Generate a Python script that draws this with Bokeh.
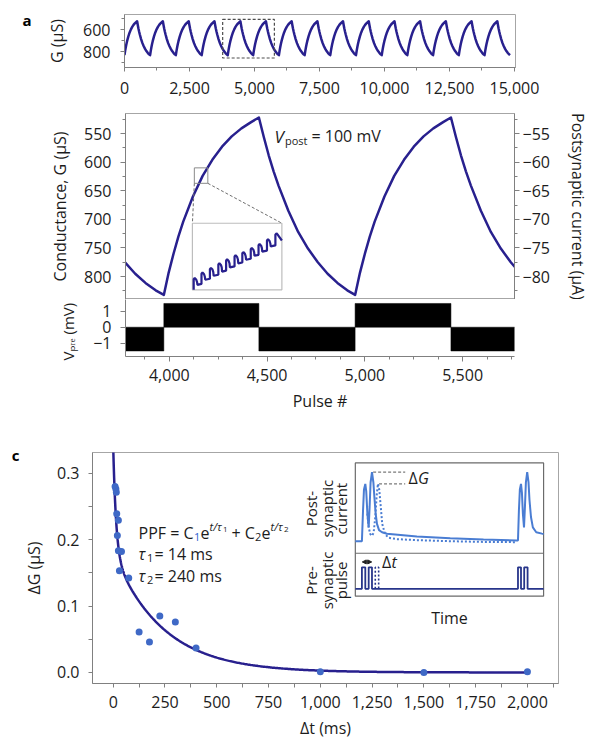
import math
import numpy as np
from bokeh.plotting import figure
from bokeh.models import (Range1d, LinearAxis, FixedTicker, Label, Arrow,
                          NormalHead, NumeralTickFormatter)
from bokeh.layouts import column
from bokeh.embed import file_html
from bokeh.resources import INLINE

# ---------------- panel a: conductance under alternating pulse trains ----------------
trough_pulse = [0, 985, 1975, 2970, 3972, 4950, 5940, 6930, 7915, 8905,
                9895, 10880, 11870, 12860, 13850, 14830]
peak_pulse = [485, 1475, 2470, 3460, 4458, 5440, 6430, 7420, 8405, 9395,
              10385, 11370, 12360, 13350, 14340]
branch_step = [0, 25, 50, 75, 100, 150, 200, 250, 300, 350, 400, 450, 490]
potentiation_g = [832, 793, 760, 730, 704, 660, 624, 596, 573, 555, 541, 530, 522]
depression_g = [522, 556, 588, 616, 641, 685, 722, 751, 775, 795, 811, 824, 832]
v_pre_amplitude = 1.5     # mV
v_post = 100              # mV

# magnified stretch of one potentiation branch
zoom_pulse = [4128, 4197]
zoom_g = [610, 637]
tooth_start = [4129, 4135, 4141.5, 4148, 4154, 4160.5, 4166.5, 4173, 4179, 4185.5, 4192]
tooth_top = [632.7, 630.5, 628.6, 626.7, 625.1, 623.5, 622.2, 620.5, 618.9, 617.0, 614.6]
tooth_low = [637.0, 634.6, 632.5, 630.9, 629.2, 627.5, 625.9, 624.4, 622.8, 621.1, 619.0]
tooth_end_g = 617.0

strip_x_ticks = [0, 2500, 5000, 7500, 10000, 12500, 15000]
strip_x_minor = [1250, 3750, 6250, 8750, 11250, 13750]
strip_g_ticks = [600, 800]
strip_g_minor = [500, 700, 900]
main_g_ticks = [550, 600, 650, 700, 750, 800]
main_g_minor = [525, 575, 625, 675, 725, 775, 825]
current_ticks = [-80, -75, -70, -65, -60, -55]
current_minor = [-82.5, -77.5, -72.5, -67.5, -62.5, -57.5, -52.5]
pulse_ticks = [4000, 4500, 5000, 5500]
pulse_minor = [3875, 4125, 4250, 4375, 4625, 4750, 4875, 5125, 5250, 5375, 5625, 5750]
vpre_ticks = [-1, 0, 1]

# ---------------- panel c: paired-pulse facilitation ----------------
ppf_dt = [9, 13, 15, 17, 25, 20, 25, 40, 30, 75, 125, 175, 225, 300, 400, 1000, 1500, 2000]
ppf_dg = [0.280, 0.276, 0.271, 0.239, 0.229, 0.206, 0.183, 0.182, 0.153, 0.142,
          0.061, 0.046, 0.085, 0.076, 0.037, 0.001, 0.000, 0.001]
tau1, tau2 = 14, 240      # ms
c1, c2 = 0.16, 0.18       # µS

dt_ticks = [0, 250, 500, 750, 1000, 1250, 1500, 1750, 2000]
dt_minor = [125, 375, 625, 875, 1125, 1375, 1625, 1875, 2125]
dg_ticks = [0.0, 0.1, 0.2, 0.3]
dg_minor = [0.05, 0.15, 0.25]

# schematic: postsynaptic current and presynaptic pulses (arbitrary units)
cur_t = [0, 3.5, 4.1, 4.6, 5.3, 5.8, 6.4, 7.1, 7.6, 8.1, 8.85, 9.6, 10.1, 10.8, 11.5,
         12.6, 14.2, 16.8, 32.7, 50.4, 68.1, 85.8, 86.4, 86.9, 87.4, 88.0, 88.5, 89.0,
         89.6, 90.1, 90.6, 91.3, 92.0, 92.5, 93.3, 94.3, 96.1, 99.1, 100]
cur_v = [0, 0, 0.45, 0.75, 0.83, 0.72, 0.40, 0.20, 0.50, 0.85, 1.00, 0.85, 0.65, 0.40,
         0.25, 0.16, 0.13, 0.107, 0.068, 0.043, 0.025, 0.010, 0.010, 0.45, 0.75, 0.83,
         0.70, 0.40, 0.20, 0.50, 0.85, 1.00, 0.85, 0.60, 0.35, 0.20, 0.13, 0.11, 0.105]
late_t = [6.4, 7.1, 8.0, 8.85, 9.7, 10.6, 11.3, 12.0, 12.7, 13.5, 14.3, 15.8, 17.7,
          22.1, 32.7, 50.4, 68.1, 85.8]
late_v = [0.40, 0.20, 0.10, 0.08, 0.12, 0.35, 0.65, 0.83, 0.75, 0.50, 0.25, 0.10, 0.05,
          0.03, 0.015, 0.0, -0.01, -0.014]
pulse_t = [0, 3.5, 3.5, 5.3, 5.3, 7.1, 7.1, 8.85, 8.85, 86.4, 86.4, 88.0, 88.0, 89.7,
           89.7, 91.5, 91.5, 100]
pulse_w = [0, 0, 1, 1, 0, 0, 1, 1, 0, 0, 1, 1, 0, 0, 1, 1, 0, 0]
late_pulse_t = [10.6, 10.6, 12.4, 12.4]
late_pulse_w = [0, 1, 1, 0]

# ---------------- styling ----------------
FONT = "Open Sans"
INK = "#1c1c1c"
NAVY = "#28208e"
DOT_BLUE = "#3f69c6"
LIGHT_BLUE = "#4a7dd3"
PULSE_NAVY = "#27358a"
AXIS_GRAY = "#808080"
FRAME_GRAY = "#a6a6a6"


def base_figure(**kw):
    p = figure(output_backend="svg", toolbar_location=None, **kw)
    p.frame_align = False
    p.xgrid.visible = False
    p.ygrid.visible = False
    p.background_fill_color = "white"
    p.border_fill_color = "white"
    p.outline_line_color = FRAME_GRAY
    return p


def style_axis(ax, tick_out=5, minor_out=3, standoff=9, label_standoff=10, size="16px"):
    ax.major_label_text_font = FONT
    ax.major_label_text_font_size = size
    ax.major_label_text_color = INK
    ax.axis_label_text_font = FONT
    ax.axis_label_text_font_size = size
    ax.axis_label_text_font_style = "normal"
    ax.axis_label_text_color = INK
    ax.axis_line_color = AXIS_GRAY
    ax.major_tick_line_color = AXIS_GRAY
    ax.minor_tick_line_color = AXIS_GRAY
    ax.major_tick_in = 0
    ax.minor_tick_in = 0
    ax.major_tick_out = tick_out
    ax.minor_tick_out = minor_out
    ax.major_label_standoff = standoff
    ax.axis_label_standoff = label_standoff


def side_text(p, text, at, standoff, size="15px", style="bold", orientation="horizontal"):
    """Text drawn as the only tick label of an outer, bare left axis."""
    ax = LinearAxis(ticker=FixedTicker(ticks=[at]), major_label_overrides={at: text})
    ax.axis_line_color = None
    ax.major_tick_line_color = None
    ax.minor_tick_line_color = None
    ax.major_tick_out = 0
    ax.major_tick_in = 0
    ax.major_label_standoff = standoff
    ax.major_label_orientation = orientation
    ax.major_label_text_font = FONT
    ax.major_label_text_font_size = size
    ax.major_label_text_font_style = style
    ax.major_label_text_color = "black" if style == "bold" else INK
    p.add_layout(ax, "left")


def label(p, x, y, text, size=16, style="normal", color=INK, align="left",
          baseline="alphabetic", angle=0.0, units="screen", xr="default", yr="default"):
    p.add_layout(Label(x=x, y=y, text=text, x_units=units, y_units=units,
                       x_range_name=xr, y_range_name=yr,
                       text_font=FONT, text_font_size=f"{size}px",
                       text_font_style=style, text_color=color, text_align=align,
                       text_baseline=baseline, angle=angle))


def frac_range(a, b, fa, fb):
    """Range whose values a and b land at frame fractions fa and fb."""
    span = (b - a) / (fb - fa)
    start = a - fa * span
    return Range1d(start=start, end=start + span)


def frac_value(rng, f):
    return rng.start + f * (rng.end - rng.start)


# conductance trace: potentiation (trough -> peak), depression (peak -> trough)
def branch(x0, x1, gvals):
    return [x0 + s / branch_step[-1] * (x1 - x0) for s in branch_step], list(gvals)


pulse_x, g_y = [], []
for i, pk in enumerate(peak_pulse):
    xs, ys = branch(trough_pulse[i], pk, potentiation_g)
    if pulse_x:
        xs, ys = xs[1:], ys[1:]
    pulse_x += xs
    g_y += ys
    xs, ys = branch(pk, trough_pulse[i + 1], depression_g)
    pulse_x += xs[1:]
    g_y += ys[1:]

# ================= strip: full run =================
p1 = base_figure(width=600, height=104, x_range=Range1d(0, 15040), y_range=Range1d(945, 460),
                 min_border_left=124, min_border_right=85, min_border_top=14, min_border_bottom=37)
p1.line(pulse_x, g_y, line_color=NAVY, line_width=2.5, line_join="round")

main_x = Range1d(3776, 5765)
main_y = Range1d(840, 515)
p1.quad(left=[main_x.start], right=[main_x.end], top=[main_y.end - 10], bottom=[main_y.start + 18],
        fill_color=None, line_color="#4d4d4d", line_dash="3 2", line_width=1.2)

style_axis(p1.xaxis[0], tick_out=4, minor_out=3, standoff=10)
p1.xaxis.ticker = FixedTicker(ticks=strip_x_ticks, minor_ticks=strip_x_minor)
p1.xaxis.formatter = NumeralTickFormatter(format="0,0")
style_axis(p1.yaxis[0], tick_out=4, minor_out=3, standoff=10, label_standoff=12)
p1.yaxis.ticker = FixedTicker(ticks=strip_g_ticks, minor_ticks=strip_g_minor)
p1.yaxis.axis_label = "G (µS)"
side_text(p1, "a", 506, 12)

# ================= main: zoomed conductance =================
p2 = base_figure(width=600, height=195, x_range=main_x, y_range=main_y, x_axis_location=None,
                 min_border_left=125, min_border_right=86, min_border_top=9, min_border_bottom=0)
p2.extra_y_ranges = {
    "current": Range1d(-v_post / 1000 * main_y.start, -v_post / 1000 * main_y.end),
    "zy": frac_range(zoom_g[1], zoom_g[0], 0.052, 0.41),
}
p2.extra_x_ranges = {"zx": frac_range(zoom_pulse[0], zoom_pulse[1], 0.172, 0.402)}
p2.line(pulse_x, g_y, line_color=NAVY, line_width=2.5, line_join="round")

style_axis(p2.yaxis[0], standoff=9, label_standoff=10)
p2.yaxis.ticker = FixedTicker(ticks=main_g_ticks, minor_ticks=main_g_minor)
p2.yaxis.axis_label = "Conductance, G (µS)"

right = LinearAxis(y_range_name="current",
                   ticker=FixedTicker(ticks=current_ticks, minor_ticks=current_minor),
                   axis_label="Postsynaptic current (µA)")
style_axis(right, standoff=3, label_standoff=14)
right.major_label_overrides = {t: f"\u2212{abs(t)}" for t in current_ticks}
p2.add_layout(right, "right")

# magnifier: marked square, connectors and inset box
box_l = frac_value(main_x, 0.172)
box_r = frac_value(main_x, 0.402)
box_t = frac_value(main_y, 0.41)
p2.quad(left=[zoom_pulse[0]], right=[zoom_pulse[1]], top=[zoom_g[0]], bottom=[zoom_g[1]],
        fill_color=None, line_color="#8a8a8a", line_width=1)
p2.segment(x0=[zoom_pulse[0], zoom_pulse[1]], y0=[zoom_g[1], zoom_g[1]],
           x1=[box_l, box_r], y1=[box_t, box_t],
           line_color="#6e6e6e", line_dash="3 2", line_width=1)
p2.quad(left=[zoom_pulse[0]], right=[zoom_pulse[1]], top=[zoom_g[0]], bottom=[zoom_g[1]],
        x_range_name="zx", y_range_name="zy", fill_color="white", line_color="#bdbdbd",
        line_width=1.2)
zx, zy = [], []
for k, s in enumerate(tooth_start):
    low, top = tooth_low[k], tooth_top[k]
    zx += [s, s, s + 0.8, s + 2.0]
    zy += [low, top, top - 0.5, top + 0.2]
    if k + 1 < len(tooth_start):
        zx += [s + 2.6, s + 2.9]
        zy += [top + 1.2, tooth_low[k + 1] + 0.4]
    else:
        zx += [zoom_pulse[1]]
        zy += [tooth_end_g]
p2.line(zx, zy, x_range_name="zx", y_range_name="zy", line_color=NAVY, line_width=2.2)

label(p2, 149, 163.5, "V", size=17, style="italic")
label(p2, 159.5, 159.5, "post", size=11)
label(p2, 186, 163.5, f"= {v_post} mV")

# ================= presynaptic voltage =================
p3 = base_figure(width=600, height=125, x_range=main_x, y_range=Range1d(-1.85, 1.75),
                 min_border_left=125, min_border_right=86, min_border_top=0, min_border_bottom=68)
p3.outline_line_color = None
p3.quad(left=trough_pulse[:-1], right=peak_pulse, bottom=0, top=v_pre_amplitude,
        fill_color="black", line_color="black", line_width=0.5)
p3.quad(left=peak_pulse, right=trough_pulse[1:], bottom=-v_pre_amplitude, top=0,
        fill_color="black", line_color="black", line_width=0.5)
style_axis(p3.xaxis[0], standoff=7, label_standoff=6)
p3.xaxis.ticker = FixedTicker(ticks=pulse_ticks, minor_ticks=pulse_minor)
p3.xaxis.formatter = NumeralTickFormatter(format="0,0")
p3.xaxis.axis_label = "Pulse #"
style_axis(p3.yaxis[0], standoff=9)
p3.yaxis.ticker = FixedTicker(ticks=vpre_ticks)
p3.yaxis.major_label_overrides = {-1: "\u22121"}
side_text(p3, "V\u209a\u1d63\u2091 (mV)", -0.28, 12, size="15px", style="normal",
          orientation="vertical")

# ================= panel c =================
p4 = base_figure(width=600, height=319, x_range=Range1d(-100, 2150), y_range=Range1d(-0.0166, 0.331),
                 min_border_left=92, min_border_right=42, min_border_top=28, min_border_bottom=60)
fit_t = np.concatenate([np.linspace(0, 100, 201), np.linspace(100, 2000, 381)[1:]])
fit_g = c1 * np.exp(-fit_t / tau1) + c2 * np.exp(-fit_t / tau2)
p4.line(fit_t, fit_g, line_color=NAVY, line_width=2.5)
p4.scatter(ppf_dt, ppf_dg, size=7, fill_color=DOT_BLUE, line_color=None)

style_axis(p4.xaxis[0], tick_out=4, minor_out=4, standoff=8, label_standoff=6)
p4.xaxis.ticker = FixedTicker(ticks=dt_ticks, minor_ticks=dt_minor)
p4.xaxis.formatter = NumeralTickFormatter(format="0,0")
p4.xaxis.axis_label = "\u0394t (ms)"
style_axis(p4.yaxis[0], tick_out=4, minor_out=4, standoff=9, label_standoff=9)
p4.yaxis.ticker = FixedTicker(ticks=dg_ticks, minor_ticks=dg_minor)
p4.yaxis.formatter = NumeralTickFormatter(format="0.0")
p4.yaxis.axis_label = "\u0394G (µS)"
side_text(p4, "c", 0.3265, 0)

# fit equation
fy = 150.5
label(p4, 46, fy, "PPF = C")
label(p4, 101.5, fy - 4, "1", size=11, color="#2d5fd0")
label(p4, 108, fy, "e")
label(p4, 117, fy + 7, "t/", size=11, style="italic")
label(p4, 124.5, fy + 7, "\u03c4", size=11, style="italic")
label(p4, 130.5, fy + 4, "1", size=8)
label(p4, 139, fy, "+ C")
label(p4, 162.5, fy - 4, "2", size=11)
label(p4, 169, fy, "e")
label(p4, 178, fy + 7, "t/", size=11, style="italic")
label(p4, 185.5, fy + 7, "\u03c4", size=11, style="italic")
label(p4, 191.5, fy + 4, "2", size=8)
for row, (sub, tau) in enumerate([("1", tau1), ("2", tau2)]):
    by = 129.7 - row * 21.7
    label(p4, 46, by, "\u03c4", style="italic")
    label(p4, 54.5, by - 4, sub, size=11)
    label(p4, 62, by, f"= {tau} ms")

# schematic inset
p4.extra_x_ranges = {"ix": frac_range(0, 100, 0.564, 0.968)}
p4.extra_y_ranges = {
    "icur": frac_range(0, 1, 0.616, 0.915),
    "ipul": frac_range(0, 1, 0.41, 0.503),
    "by": frac_range(0, 1, 0.378, 0.955),
}
p4.quad(left=[0], right=[100], bottom=[0], top=[1], x_range_name="ix", y_range_name="by",
        fill_color="white", line_color="#6b6b6b", line_width=1.2)
p4.segment(x0=[0], x1=[100], y0=[0.322], y1=[0.322], x_range_name="ix", y_range_name="by",
           line_color="#6b6b6b", line_width=1.2)
peak_solid = max(cur_v)
peak_late = max(late_v)
p4.segment(x0=[cur_t[cur_v.index(peak_solid)] + 0.6, late_t[late_v.index(peak_late)] + 0.6],
           x1=[26.5, 26.5], y0=[peak_solid, peak_late], y1=[peak_solid, peak_late],
           x_range_name="ix", y_range_name="icur", line_color="#7a7a7a",
           line_dash="3 2", line_width=1.2)
p4.line(late_t, late_v, x_range_name="ix", y_range_name="icur", line_color=LIGHT_BLUE,
        line_width=2, line_dash="2 2")
p4.line(cur_t, cur_v, x_range_name="ix", y_range_name="icur", line_color=LIGHT_BLUE,
        line_width=2)
p4.line(late_pulse_t, late_pulse_w, x_range_name="ix", y_range_name="ipul",
        line_color=PULSE_NAVY, line_width=1.6, line_dash="2 2")
p4.line(pulse_t, pulse_w, x_range_name="ix", y_range_name="ipul", line_color=PULSE_NAVY,
        line_width=1.8)
p4.add_layout(Arrow(x_start=3.7, x_end=8.7, y_start=1.25, y_end=1.25,
                    x_range_name="ix", y_range_name="ipul", line_width=1, line_color="#222",
                    start=NormalHead(size=4, fill_color="#222", line_color="#222"),
                    end=NormalHead(size=4, fill_color="#222", line_color="#222")))

label(p4, 28.3, (peak_solid + peak_late) / 2, "\u0394", baseline="middle", units="data",
      xr="ix", yr="icur")
label(p4, 33.3, (peak_solid + peak_late) / 2, "G", style="italic", baseline="middle",
      units="data", xr="ix", yr="icur")
label(p4, 14.2, 1.25, "\u0394", baseline="middle", units="data", xr="ix", yr="ipul")
label(p4, 19.2, 1.25, "t", style="italic", baseline="middle", units="data", xr="ix", yr="ipul")
for xv, txt in [(-23.4, "Post-"), (-15.1, "synaptic"), (-7.7, "current")]:
    label(p4, xv, 0.657, txt, size=15, align="center", baseline="middle", angle=math.pi / 2,
          units="data", xr="ix", yr="by")
for xv, txt in [(-23.4, "Pre-"), (-15.1, "synaptic"), (-7.7, "pulse")]:
    label(p4, xv, 0.118, txt, size=15, align="center", baseline="middle", angle=math.pi / 2,
          units="data", xr="ix", yr="by")
label(p4, 50, -0.167, "Time", align="center", baseline="middle", units="data", xr="ix", yr="by")

layout = column(p1, p2, p3, p4, spacing=0)
open("out.html", "w").write(file_html(layout, INLINE))
